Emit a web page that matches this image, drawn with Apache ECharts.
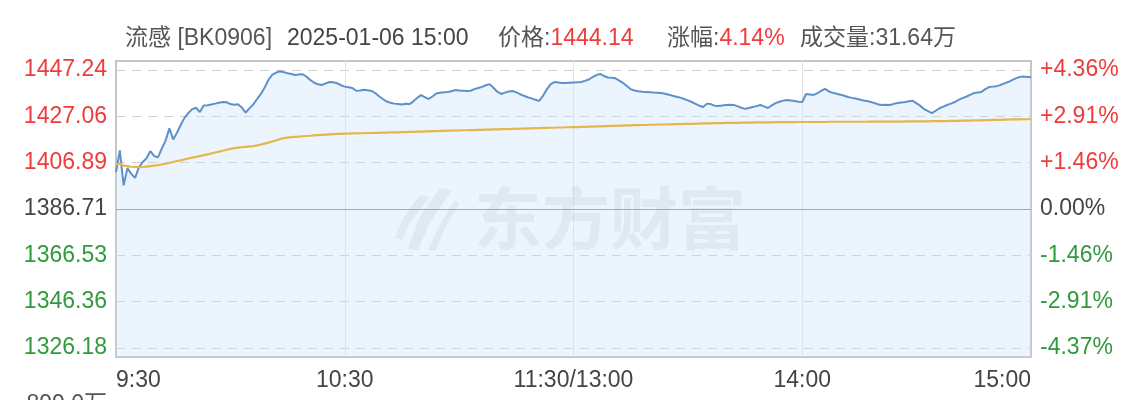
<!DOCTYPE html>
<html><head><meta charset="utf-8">
<script src="https://cdn.jsdelivr.net/npm/echarts@6.0.0/dist/echarts.min.js"></script>
<style>html,body{margin:0;padding:0;background:#fff;}#c{width:1142px;height:400px;}</style>
</head><body><div id="c"></div>
<script>
// ---- header texts ----
const stockName = '流感 [BK0906]';
const dateTime = '2025-01-06 15:00';
const lastPrice = '1444.14';
const changePct = '4.14%';
const volumeText = '31.64万';
const volAxisTop = '899.0万';
const watermarkText = '东方财富';

// ---- axes ----
const preClose = 1386.71;
const leftTickLabels = ['1326.18','1346.36','1366.53','1386.71','1406.89','1427.06','1447.24'];
const rightTickLabels = ['-4.37%','-2.91%','-1.46%','0.00%','+1.46%','+2.91%','+4.36%'];
const xTickIndex = [0, 60, 120, 180, 240];
const xTickLabels = ['9:30', '10:30', '11:30/13:00', '14:00', '15:00'];

// ---- series (one value per minute, 9:30-11:30, 13:01-15:00) ----
const price = [
1402.8,1412.2,1397.0,1404.5,1402.0,1400.3,1404.8,1407.2,1408.8,1411.9,
1409.8,1409.2,1413.0,1416.5,1421.8,1417.0,1419.9,1423.4,1426.5,1428.6,
1430.2,1430.8,1428.9,1431.8,1431.9,1432.2,1432.6,1433.0,1433.3,1433.2,
1432.4,1432.1,1432.3,1430.9,1428.7,1430.5,1432.3,1434.6,1436.8,1439.6,
1443.0,1445.2,1446.1,1446.7,1446.3,1445.8,1445.5,1445.1,1445.3,1445.4,
1444.3,1442.8,1441.7,1441.0,1440.7,1441.4,1442.0,1441.9,1441.5,1440.6,
1440.0,1439.7,1439.4,1438.2,1438.3,1438.6,1438.4,1438.1,1437.2,1435.8,
1434.6,1433.5,1433.0,1432.6,1432.4,1432.2,1432.5,1432.4,1433.6,1435.1,
1436.3,1435.4,1434.6,1435.7,1437.0,1437.3,1437.5,1437.7,1438.0,1438.5,
1438.3,1438.2,1438.1,1438.2,1438.9,1439.4,1439.9,1440.6,1441.1,1439.5,
1437.8,1436.8,1437.4,1437.9,1438.1,1437.5,1436.7,1436.0,1435.4,1434.9,
1434.3,1433.8,1436.0,1438.8,1441.1,1442.0,1441.8,1441.6,1441.6,1441.7,
1441.8,1441.9,1442.0,1442.5,1443.1,1444.1,1445.0,1445.5,1444.6,1444.0,
1443.9,1443.6,1442.6,1441.6,1440.3,1438.9,1438.3,1438.0,1437.8,1437.7,
1437.6,1437.4,1437.3,1437.2,1436.9,1436.5,1436.0,1435.6,1435.2,1434.6,
1434.0,1433.3,1432.5,1431.7,1431.1,1432.6,1432.4,1431.7,1431.6,1431.8,
1432.0,1432.1,1432.0,1431.5,1430.8,1430.3,1430.7,1431.1,1431.5,1432.0,
1431.4,1430.7,1431.8,1432.8,1433.4,1433.9,1434.2,1434.0,1433.7,1433.4,
1433.3,1436.8,1436.6,1436.4,1437.2,1438.2,1439.0,1437.9,1437.3,1436.9,
1436.5,1436.0,1435.5,1435.1,1434.8,1434.4,1434.0,1433.7,1433.3,1432.8,
1432.2,1432.0,1432.1,1432.0,1432.5,1432.9,1433.1,1433.3,1433.6,1433.8,
1432.7,1431.6,1430.2,1429.3,1428.5,1429.5,1430.6,1431.3,1432.0,1432.6,
1433.3,1434.2,1435.0,1435.6,1436.4,1437.2,1437.4,1437.7,1438.9,1439.8,
1440.0,1440.2,1440.7,1441.4,1442.0,1442.8,1443.6,1444.2,1444.4,1444.2,1444.14
];
const avgPrice = [
1406.0,1406.5,1405.6,1405.4,1405.1,1405.0,1404.9,1405.0,1405.2,1405.4,1405.6,
1405.8,1406.1,1406.4,1406.8,1407.2,1407.6,1407.9,1408.3,1408.7,1409.1,
1409.4,1409.8,1410.2,1410.5,1410.9,1411.3,1411.7,1412.1,1412.5,1412.9,
1413.2,1413.4,1413.6,1413.8,1414.0,1414.1,1414.4,1414.8,1415.2,1415.6,
1416.1,1416.6,1417.2,1417.6,1417.8,1418.0,1418.1,1418.2,1418.4,1418.5,
1418.6,1418.8,1418.9,1419.0,1419.1,1419.2,1419.3,1419.4,1419.4,1419.5,
1419.5,1419.6,1419.6,1419.7,1419.7,1419.8,1419.8,1419.9,1419.9,1420.0,
1420.0,1420.1,1420.1,1420.1,1420.2,1420.2,1420.3,1420.3,1420.4,1420.4,
1420.5,1420.5,1420.6,1420.6,1420.7,1420.7,1420.8,1420.8,1420.9,1420.9,
1421.0,1421.0,1421.1,1421.1,1421.2,1421.2,1421.3,1421.3,1421.4,1421.4,
1421.5,1421.5,1421.5,1421.6,1421.6,1421.7,1421.7,1421.8,1421.8,1421.9,
1421.9,1422.0,1422.0,1422.1,1422.1,1422.2,1422.2,1422.3,1422.3,1422.4,
1422.4,1422.5,1422.5,1422.6,1422.6,1422.7,1422.7,1422.8,1422.8,1422.9,
1422.9,1423.0,1423.0,1423.1,1423.1,1423.2,1423.2,1423.3,1423.3,1423.4,
1423.4,1423.5,1423.5,1423.5,1423.6,1423.6,1423.7,1423.7,1423.8,1423.8,
1423.8,1423.9,1423.9,1424.0,1424.0,1424.0,1424.1,1424.1,1424.1,1424.2,
1424.2,1424.2,1424.2,1424.3,1424.3,1424.3,1424.3,1424.4,1424.4,1424.4,
1424.4,1424.4,1424.5,1424.5,1424.5,1424.5,1424.5,1424.5,1424.6,1424.6,
1424.6,1424.6,1424.6,1424.6,1424.6,1424.6,1424.7,1424.7,1424.7,1424.7,
1424.7,1424.7,1424.7,1424.7,1424.7,1424.7,1424.7,1424.8,1424.8,1424.8,
1424.8,1424.8,1424.8,1424.8,1424.8,1424.8,1424.9,1424.9,1424.9,1424.9,
1424.9,1424.9,1424.9,1425.0,1425.0,1425.0,1425.0,1425.0,1425.1,1425.1,
1425.1,1425.2,1425.2,1425.2,1425.3,1425.3,1425.3,1425.4,1425.4,1425.5,
1425.5,1425.5,1425.6,1425.6,1425.7,1425.7,1425.7,1425.8,1425.8,1425.9
];

// minute categories
const times = [];
function pushRange(h0, m0, h1, m1) {
  let h = h0, m = m0;
  while (h < h1 || (h === h1 && m <= m1)) {
    times.push(h + ':' + (m < 10 ? '0' + m : m));
    m++; if (m === 60) { m = 0; h++; }
  }
}
pushRange(9, 30, 11, 30);
pushRange(13, 1, 15, 0);

const FONT = '"Liberation Sans", Arial, "Noto Sans CJK SC", sans-serif';
const RED = '#ee3b3b', GREEN = '#2f9a3c', GRAY = '#555555';
const FS = 23;

const lowTick = parseFloat(leftTickLabels[0]);
const highTick = parseFloat(leftTickLabels[leftTickLabels.length - 1]);
const padFrac = 9 / 278;
const pad = (highTick - lowTick) * padFrac;

function tickColor(i) { return i > 3 ? RED : (i < 3 ? GREEN : '#444'); }

const chart = echarts.init(document.getElementById('c'), null, {renderer: 'canvas'});
chart.setOption({
  animation: false,
  backgroundColor: '#fff',
  textStyle: {fontFamily: FONT},
  grid: [
    {left: 116, top: 61, width: 915, height: 296, show: true, borderColor: '#b4b4b4', borderWidth: 1.5, backgroundColor: 'transparent', containLabel: false, outerBoundsMode: 'none'},
    {left: 116, top: 70, width: 915, height: 278, show: false, containLabel: false, outerBoundsMode: 'none'}
  ],
  xAxis: [
    {
      type: 'category', gridIndex: 0, data: times, boundaryGap: false,
      axisLine: {show: false}, axisTick: {show: false},
      axisLabel: {
        interval: (idx) => xTickIndex.indexOf(idx) >= 0,
        formatter: (v, idx) => xTickLabels[xTickIndex.indexOf(idx)],
        color: '#444', fontSize: FS, fontFamily: FONT, margin: 12,
        alignMinLabel: 'left', alignMaxLabel: 'right'
      },
      splitLine: {
        show: true,
        interval: (idx) => idx > 0 && idx < times.length - 1 && xTickIndex.indexOf(idx) >= 0,
        lineStyle: {color: '#e3e3e3', width: 1, type: 'solid'}
      }
    },
    {type: 'value', gridIndex: 1, show: false, min: 0, max: 1}
  ],
  yAxis: [
    {type: 'value', gridIndex: 0, min: lowTick - pad, max: highTick + pad, show: false, splitLine: {show: false}},
    {
      type: 'value', gridIndex: 1, position: 'left', min: 0, max: 6, interval: 1,
      axisLine: {show: false}, axisTick: {show: false},
      axisLabel: {
        formatter: (v) => leftTickLabels[Math.round(v)],
        color: (v) => tickColor(Math.round(v)),
        fontSize: FS, fontFamily: FONT, margin: 9
      },
      splitLine: {show: true, lineStyle: {color: '#cfcfcf', width: 1, type: [9, 7]}}
    },
    {
      type: 'value', gridIndex: 1, position: 'right', min: 0, max: 6, interval: 1,
      axisLine: {show: false}, axisTick: {show: false},
      axisLabel: {
        formatter: (v) => rightTickLabels[Math.round(v)],
        color: (v) => tickColor(Math.round(v)),
        fontSize: FS, fontFamily: FONT, margin: 9
      },
      splitLine: {show: false}
    }
  ],
  graphic: [
    {type: 'text', left: 125, top: 27, z: 10, style: {text: stockName, fill: GRAY, font: FS + 'px ' + FONT}},
    {type: 'text', left: 287, top: 27, z: 10, style: {text: dateTime, fill: '#444', font: FS + 'px ' + FONT}},
    {type: 'text', left: 498, top: 27, z: 10, style: {text: '{n|价格:}{r|' + lastPrice + '}', rich: {n: {fill: GRAY, fontSize: FS, fontFamily: FONT}, r: {fill: RED, fontSize: FS, fontFamily: FONT}}}},
    {type: 'text', left: 667, top: 27, z: 10, style: {text: '{n|涨幅:}{r|' + changePct + '}', rich: {n: {fill: GRAY, fontSize: FS, fontFamily: FONT}, r: {fill: RED, fontSize: FS, fontFamily: FONT}}}},
    {type: 'text', left: 800, top: 27, z: 10, style: {text: '成交量:' + volumeText, fill: GRAY, font: FS + 'px ' + FONT}},
    {type: 'text', right: 1142 - 107, top: 393, z: 10, style: {text: volAxisTop, fill: GRAY, font: FS + 'px ' + FONT, textAlign: 'right'}},
    {type: 'text', left: 474, top: 184, z: 1, silent: true, style: {text: watermarkText, fill: 'rgba(110,120,130,0.14)', font: 'bold 68px "Noto Sans CJK SC", sans-serif'}},
    {type: 'polygon', z: 1, silent: true, shape: {points: [[440,188],[452,190],[430,222],[418,250],[408,249],[418,220]]}, style: {fill: 'rgba(110,120,130,0.14)'}},
    {type: 'polygon', z: 1, silent: true, shape: {points: [[420,195],[430,197],[410,222],[402,240],[395,238],[403,218]]}, style: {fill: 'rgba(110,120,130,0.14)'}},
    {type: 'polygon', z: 1, silent: true, shape: {points: [[455,200],[459,204],[445,228],[436,250],[428,250],[440,224]]}, style: {fill: 'rgba(110,120,130,0.14)'}}
  ],
  series: [
    {
      type: 'line', xAxisIndex: 0, yAxisIndex: 0, data: price, showSymbol: false, symbol: 'none',
      lineStyle: {color: '#5e91c9', width: 2},
      areaStyle: {color: 'rgba(200,228,250,0.5)', origin: 'start'},
      z: 3,
      markLine: {
        silent: true, symbol: 'none', label: {show: false},
        lineStyle: {color: '#a9a9a9', width: 1, type: 'solid'},
        data: [{yAxis: preClose}]
      }
    },
    {
      type: 'line', xAxisIndex: 0, yAxisIndex: 0, data: avgPrice, showSymbol: false, symbol: 'none',
      lineStyle: {color: '#e5b64c', width: 2.2}, z: 4
    }
  ]
});
</script>
</body></html>
